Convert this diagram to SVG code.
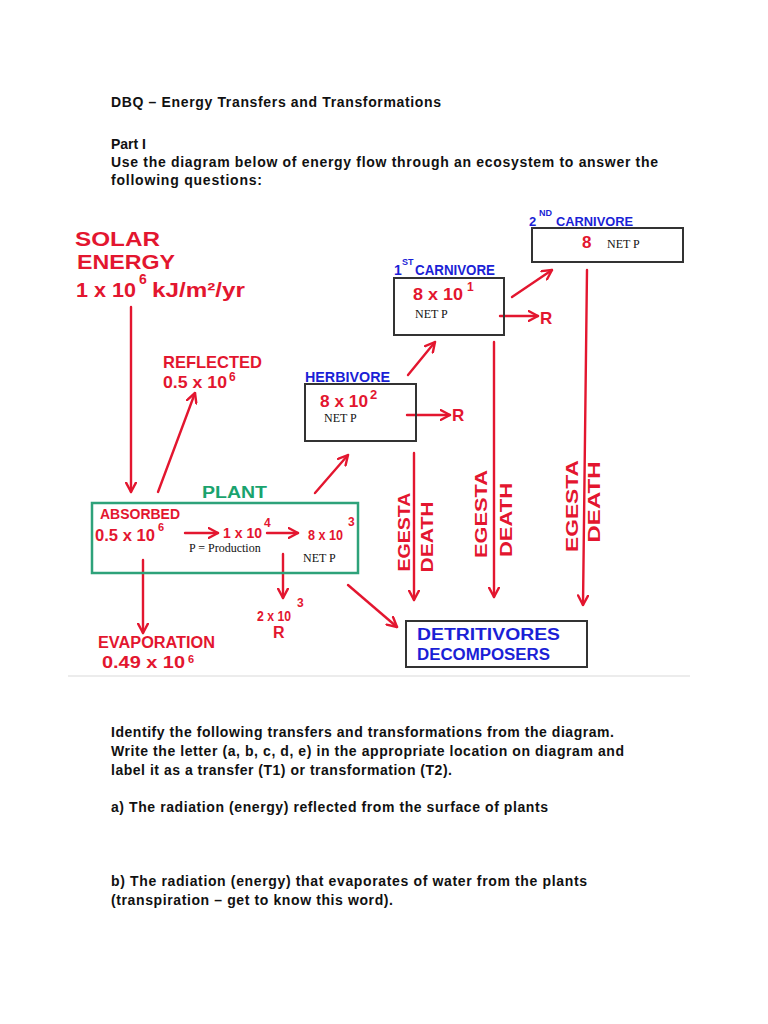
<svg xmlns="http://www.w3.org/2000/svg" width="768" height="1024" viewBox="0 0 768 1024">
<defs>
<marker id="ah" viewBox="0 0 12 12" refX="10.5" refY="6" markerWidth="12" markerHeight="12" markerUnits="userSpaceOnUse" orient="auto">
<path d="M1,1 L10.5,6 L1,11" fill="none" stroke="#e3162f" stroke-width="2.4" stroke-linecap="round" stroke-linejoin="round"/>
</marker>
<style>
.doc{font-family:"Liberation Sans",Arial,sans-serif;font-weight:bold;font-size:14px;fill:#111}
.hw{font-family:"Liberation Sans",Arial,sans-serif;font-weight:bold}
.r{fill:#e3162f}
.b{fill:#1b1fd6}
.g{fill:#1aa36e}
.ser{font-family:"Liberation Serif","Times New Roman",serif;font-size:12px;fill:#111}
.box{fill:none;stroke:#333;stroke-width:2}
.pbox{fill:none;stroke:#2ea27a;stroke-width:2.5}
.c{fill:none;stroke:#e3162f;stroke-width:2.4;stroke-linecap:round;marker-end:url(#ah)}
</style>
</defs>
<rect width="768" height="1024" fill="#fff"/>

<g id="header">
<text class="doc" x="111" y="107" textLength="330" lengthAdjust="spacing">DBQ – Energy Transfers and Transformations</text>
<text class="doc" x="111" y="149">Part I</text>
<text class="doc" x="111" y="167" textLength="547" lengthAdjust="spacing">Use the diagram below of energy flow through an ecosystem to answer the</text>
<text class="doc" x="111" y="185" textLength="151" lengthAdjust="spacing">following questions:</text>
</g>

<line x1="68" y1="676" x2="690" y2="676" stroke="#ececec" stroke-width="2"/>

<g id="connectors">
<line class="c" x1="131" y1="307" x2="131" y2="492"/>
<line class="c" x1="158" y1="492" x2="195" y2="393"/>
<line class="c" x1="143" y1="560" x2="143" y2="633"/>
<line class="c" x1="185" y1="533" x2="218" y2="533"/>
<line class="c" x1="267" y1="533" x2="298" y2="533"/>
<line class="c" x1="283" y1="554" x2="283" y2="598"/>
<line class="c" x1="315" y1="493" x2="348" y2="455"/>
<line class="c" x1="348" y1="585" x2="397" y2="627"/>
<line class="c" x1="407" y1="415" x2="450" y2="415"/>
<line class="c" x1="408" y1="375" x2="435" y2="342"/>
<line class="c" x1="414" y1="453" x2="414" y2="600"/>
<line class="c" x1="500" y1="316" x2="538" y2="316"/>
<line class="c" x1="512" y1="297" x2="552" y2="270"/>
<line class="c" x1="494" y1="342" x2="494" y2="597"/>
<line class="c" x1="587" y1="270" x2="583" y2="605"/>
</g>

<g id="solar" class="hw r">
<text x="75" y="246" font-size="20" textLength="85" lengthAdjust="spacingAndGlyphs">SOLAR</text>
<text x="77" y="269" font-size="20" textLength="98" lengthAdjust="spacingAndGlyphs">ENERGY</text>
<text x="76" y="297" font-size="20" textLength="60" lengthAdjust="spacingAndGlyphs">1 x 10</text>
<text x="139" y="284" font-size="14">6</text>
<text x="152" y="297" font-size="20" textLength="93" lengthAdjust="spacingAndGlyphs">kJ/m²/yr</text>
</g>

<g id="reflected" class="hw r">
<text x="163" y="368" font-size="17" textLength="99" lengthAdjust="spacingAndGlyphs">REFLECTED</text>
<text x="163" y="388" font-size="17" textLength="64" lengthAdjust="spacingAndGlyphs">0.5 x 10</text>
<text x="229" y="381" font-size="12">6</text>
</g>

<g id="plant">
<rect class="pbox" x="92" y="503" width="266" height="70"/>
<text class="hw g" x="202" y="498" font-size="16" textLength="65" lengthAdjust="spacingAndGlyphs">PLANT</text>
<text class="hw r" x="100" y="519" font-size="15" textLength="80" lengthAdjust="spacingAndGlyphs">ABSORBED</text>
<text class="hw r" x="95" y="541" font-size="16" textLength="60" lengthAdjust="spacingAndGlyphs">0.5 x 10</text>
<text class="hw r" x="158" y="531" font-size="11">6</text>
<text class="hw r" x="223" y="538" font-size="14" textLength="39" lengthAdjust="spacingAndGlyphs">1 x 10</text>
<text class="hw r" x="264" y="527" font-size="12">4</text>
<text class="hw r" x="308" y="540" font-size="15" textLength="35" lengthAdjust="spacingAndGlyphs">8 x 10</text>
<text class="hw r" x="348" y="526" font-size="12">3</text>
<text class="ser" x="189" y="552">P = Production</text>
<text class="ser" x="303" y="562">NET P</text>
</g>

<g id="plant-respiration" class="hw r">
<text x="257" y="621" font-size="15" textLength="34" lengthAdjust="spacingAndGlyphs">2 x 10</text>
<text x="297" y="607" font-size="12">3</text>
<text x="273" y="638" font-size="16">R</text>
</g>

<g id="evaporation" class="hw r">
<text x="98" y="648" font-size="16" textLength="117" lengthAdjust="spacingAndGlyphs">EVAPORATION</text>
<text x="102" y="668" font-size="16" textLength="83" lengthAdjust="spacingAndGlyphs">0.49 x 10</text>
<text x="188" y="663" font-size="11">6</text>
</g>

<g id="herbivore">
<rect class="box" x="305" y="384" width="111" height="57"/>
<text class="hw b" x="305" y="382" font-size="14" textLength="85" lengthAdjust="spacingAndGlyphs">HERBIVORE</text>
<text class="hw r" x="320" y="407" font-size="16" textLength="48" lengthAdjust="spacingAndGlyphs">8 x 10</text>
<text class="hw r" x="370" y="399" font-size="13">2</text>
<text class="ser" x="324" y="422">NET P</text>
<text class="hw r" x="452" y="421" font-size="17">R</text>
<text class="hw r" transform="translate(410,532) rotate(-90)" text-anchor="middle" font-size="16" textLength="79" lengthAdjust="spacingAndGlyphs">EGESTA</text>
<text class="hw r" transform="translate(433,537) rotate(-90)" text-anchor="middle" font-size="16" textLength="71" lengthAdjust="spacingAndGlyphs">DEATH</text>
</g>

<g id="carnivore1">
<rect class="box" x="394" y="278" width="110" height="57"/>
<text class="hw b" x="394" y="275" font-size="14">1</text>
<text class="hw b" x="402" y="265" font-size="9">ST</text>
<text class="hw b" x="415" y="275" font-size="14" textLength="80" lengthAdjust="spacingAndGlyphs">CARNIVORE</text>
<text class="hw r" x="413" y="300" font-size="16" textLength="50" lengthAdjust="spacingAndGlyphs">8 x 10</text>
<text class="hw r" x="467" y="291" font-size="12">1</text>
<text class="ser" x="415" y="318">NET P</text>
<text class="hw r" x="540" y="324" font-size="17">R</text>
<text class="hw r" transform="translate(487,514) rotate(-90)" text-anchor="middle" font-size="16" textLength="88" lengthAdjust="spacingAndGlyphs">EGESTA</text>
<text class="hw r" transform="translate(512,520) rotate(-90)" text-anchor="middle" font-size="16" textLength="74" lengthAdjust="spacingAndGlyphs">DEATH</text>
</g>

<g id="carnivore2">
<rect class="box" x="532" y="228" width="151" height="34"/>
<text class="hw b" x="529" y="226" font-size="13">2</text>
<text class="hw b" x="539" y="216" font-size="9">ND</text>
<text class="hw b" x="556" y="226" font-size="12" textLength="77" lengthAdjust="spacingAndGlyphs">CARNIVORE</text>
<text class="hw r" x="582" y="248" font-size="17">8</text>
<text class="ser" x="607" y="248">NET P</text>
<text class="hw r" transform="translate(578,506) rotate(-90)" text-anchor="middle" font-size="16" textLength="92" lengthAdjust="spacingAndGlyphs">EGESTA</text>
<text class="hw r" transform="translate(600,502) rotate(-90)" text-anchor="middle" font-size="16" textLength="81" lengthAdjust="spacingAndGlyphs">DEATH</text>
</g>

<g id="detritivores">
<rect class="box" x="406" y="621" width="181" height="46"/>
<text class="hw b" x="417" y="640" font-size="16" textLength="143" lengthAdjust="spacingAndGlyphs">DETRITIVORES</text>
<text class="hw b" x="417" y="660" font-size="16" textLength="133" lengthAdjust="spacingAndGlyphs">DECOMPOSERS</text>
</g>

<g id="questions">
<text class="doc" x="111" y="737" textLength="503" lengthAdjust="spacing">Identify the following transfers and transformations from the diagram.</text>
<text class="doc" x="111" y="756" textLength="513" lengthAdjust="spacing">Write the letter (a, b, c, d, e) in the appropriate location on diagram and</text>
<text class="doc" x="111" y="775" textLength="341" lengthAdjust="spacing">label it as a transfer (T1) or transformation (T2).</text>
<text class="doc" x="111" y="812" textLength="437" lengthAdjust="spacing">a) The radiation (energy) reflected from the surface of plants</text>
<text class="doc" x="111" y="886" textLength="476" lengthAdjust="spacing">b)  The radiation (energy) that evaporates of water from the plants</text>
<text class="doc" x="111" y="905" textLength="282" lengthAdjust="spacing">(transpiration – get to know this word).</text>
</g>
</svg>
